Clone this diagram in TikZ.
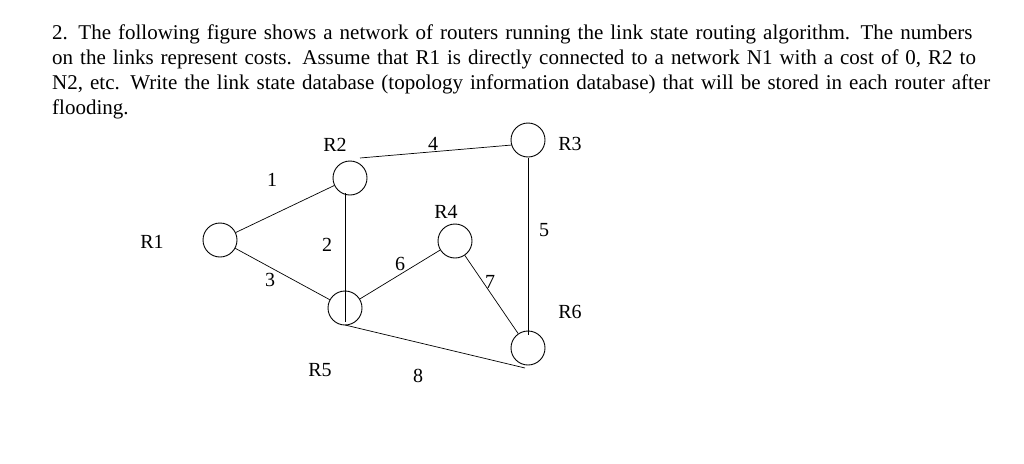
\documentclass[tikz,border=0pt]{standalone}
\usepackage{fontspec}
\setmainfont{Liberation Serif}
\begin{document}
\begin{tikzpicture}[x=1pt,y=-1pt,
  rt/.style={circle,draw,line width=0.9pt,minimum size=34pt,inner sep=0pt},
  lb/.style={font=\fontsize{20}{20}\selectfont,inner sep=0pt},
  ln/.style={line width=0.7pt}]
\useasboundingbox (0,0) rectangle (1024,463);
\node[anchor=north west,text width=985pt,inner sep=0pt,font=\fontsize{21}{25}\selectfont] (t) at (52,25) {2. The following figure shows a network of routers running the link state routing algorithm. The numbers\linebreak on the links represent costs. Assume that R1 is directly connected to a network N1 with a cost of 0, R2 to\linebreak N2, etc. Write the link state database (topology information database) that will be stored in each router after\linebreak flooding.};
\node[rt] (r1) at (220,240) {};
\node[rt] (r2) at (350,178) {};
\node[rt] (r3) at (528,140) {};
\node[rt] (r4) at (455,241) {};
\node[rt] (r5) at (345,308) {};
\node[rt] (r6) at (528,348) {};
\coordinate (a) at (360,158); \coordinate (b) at (512,145);
\coordinate (c) at (345,193); \coordinate (d) at (345,322);
\coordinate (e) at (528,158); \coordinate (f) at (528,335);
\coordinate (g) at (345,325); \coordinate (h) at (525,368);
\draw[ln] (r1) -- (r2);
\draw[ln] (r1) -- (r5);
\draw[ln] (a) -- (b);
\draw[ln] (c) -- (d);
\draw[ln] (e) -- (f);
\draw[ln] (g) -- (h);
\draw[ln] (r5) -- (r4);
\draw[ln] (r4) -- (r6);
\node[lb] (l1) at (152,242) {R1};
\node[lb] (l2) at (335,145) {R2};
\node[lb] (l3) at (570,144) {R3};
\node[lb] (l4) at (446,212) {R4};
\node[lb] (l5) at (320,370) {R5};
\node[lb] (l6) at (570,312) {R6};
\node[lb] (c1) at (272,180) {1};
\node[lb] (c4) at (433,144) {4};
\node[lb] (c2) at (327,245) {2};
\node[lb] (c3) at (270,280) {3};
\node[lb] (c6) at (400,264) {6};
\node[lb] (c7) at (490,282) {7};
\node[lb] (c5) at (544,230) {5};
\node[lb] (c8) at (418,376) {8};
\end{tikzpicture}
\end{document}
